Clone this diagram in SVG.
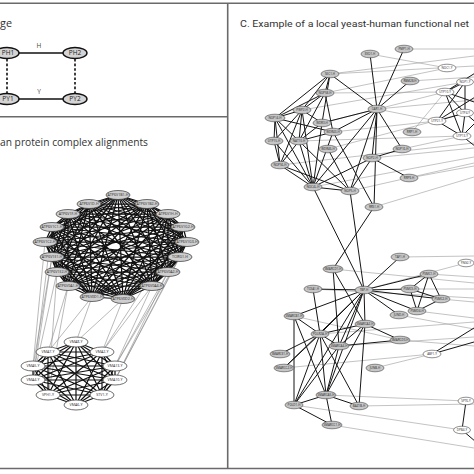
<svg xmlns="http://www.w3.org/2000/svg" width="474" height="474" viewBox="0 0 474 474">
<style>
text{font-family:"Open Sans","Noto Sans","Liberation Sans",sans-serif}
.title{font-size:10.5px;fill:#333}
.titlec{font-size:9.6px;fill:#333;font-family:Roboto,"Liberation Sans",sans-serif}
.frame{stroke:#6a6a6a;stroke-width:1.6;fill:none}
.na{fill:#d4d4d4;stroke:#111;stroke-width:1.4}
.la{font-size:6.5px;fill:#222;text-anchor:middle}
.lh{font-size:6.5px;fill:#444;text-anchor:middle}
.ea{stroke:#111;stroke-width:1.3;fill:none}
.ed{stroke:#111;stroke-width:1.6;stroke-dasharray:2.6 2;fill:none}
.kg{stroke:#111;stroke-width:1.25;fill:none;stroke-linejoin:round}
.ky{stroke:#111;stroke-width:1.2;fill:none;stroke-linejoin:round}
.map{stroke:#8a8a8a;stroke-width:0.6}
.ng{fill:#cfcfcf;stroke:#333;stroke-width:0.7}
.ny{fill:#fff;stroke:#333;stroke-width:0.7}
.lb{font-size:3.6px;fill:#222;text-anchor:middle}
.cg{fill:#c6c6c6;stroke:#444;stroke-width:0.6}
.cw{fill:#fff;stroke:#444;stroke-width:0.6}
.lc{font-size:3px;fill:#222;text-anchor:middle}
.eb{stroke:#151515;stroke-width:1}
.eg{stroke:#9a9a9a;stroke-width:0.6}
</style>

<!-- panel frames -->
<g id="frames">
<line class="frame" x1="0" y1="3.3" x2="474" y2="3.3"/>
<line class="frame" x1="227.7" y1="3.3" x2="227.7" y2="468.5"/>
<line class="frame" x1="0" y1="116.8" x2="227.7" y2="116.8"/>
<line class="frame" x1="0" y1="468.5" x2="474" y2="468.5"/>
</g>

<!-- titles -->
<text class="title" x="0" y="26.5" textLength="12" lengthAdjust="spacingAndGlyphs">ge</text>
<text class="title" x="0" y="145.5" textLength="148" lengthAdjust="spacingAndGlyphs">an protein complex alignments</text>
<text class="titlec" x="240" y="26.5" textLength="229" lengthAdjust="spacingAndGlyphs">C. Example of a local yeast-human functional net</text>

<!-- connectors -->
<g id="connectors">
<!-- panel A -->
<line class="ea" x1="19" y1="53" x2="63" y2="53"/>
<line class="ea" x1="19" y1="99" x2="63" y2="99"/>
<line class="ed" x1="7" y1="59" x2="7" y2="93"/>
<line class="ed" x1="75" y1="59" x2="75" y2="93"/>

<!-- panel B: mapping lines between complexes -->
<line class="map" x1="45" y1="242" x2="33" y2="366"/>
<line class="map" x1="52" y1="257" x2="33" y2="366"/>
<line class="map" x1="52" y1="257" x2="33" y2="380"/>
<line class="map" x1="57" y1="272" x2="33" y2="380"/>
<line class="map" x1="52" y1="227" x2="33" y2="380"/>
<line class="map" x1="57" y1="272" x2="48" y2="395"/>
<line class="map" x1="68" y1="286" x2="48" y2="352"/>
<line class="map" x1="68" y1="286" x2="48" y2="395"/>
<line class="map" x1="92" y1="297" x2="76" y2="342"/>
<line class="map" x1="92" y1="297" x2="48" y2="352"/>
<line class="map" x1="123" y1="299" x2="102" y2="352"/>
<line class="map" x1="123" y1="299" x2="76" y2="342"/>
<line class="map" x1="152" y1="286" x2="102" y2="352"/>
<line class="map" x1="152" y1="286" x2="115" y2="366"/>
<line class="map" x1="168" y1="272" x2="115" y2="366"/>
<line class="map" x1="168" y1="272" x2="115" y2="380"/>
<line class="map" x1="180" y1="257" x2="115" y2="380"/>
<line class="map" x1="180" y1="257" x2="115" y2="366"/>
<line class="map" x1="187" y1="242" x2="115" y2="380"/>
<line class="map" x1="183" y1="227" x2="102" y2="352"/>

<!-- panel B: human complex (complete graph as star polygons) -->
<polygon class="kg" points="118,195 147,204 168,214 183,227 187,242 180,257 168,272 152,286 123,299 92,297 68,286 57,272 52,257 45,242 52,227 68,214 89,204"/>
<polygon class="kg" points="118,195 168,214 187,242 168,272 123,299 68,286 52,257 52,227 89,204 147,204 183,227 180,257 152,286 92,297 57,272 45,242 68,214"/>
<polygon class="kg" points="118,195 183,227 168,272 92,297 52,257 68,214 147,204 187,242 152,286 68,286 45,242 89,204 168,214 180,257 123,299 57,272 52,227"/>
<polygon class="kg" points="118,195 187,242 123,299 52,257 89,204 183,227 152,286 57,272 68,214 168,214 168,272 68,286 52,227 147,204 180,257 92,297 45,242"/>
<polygon class="kg" points="118,195 180,257 68,286 68,214 183,227 123,299 45,242 147,204 168,272 57,272 89,204 187,242 92,297 52,227 168,214 152,286 52,257"/>
<polygon class="kg" points="118,195 168,272 52,257 147,204 152,286 45,242 168,214 123,299 52,227 183,227 92,297 68,214 187,242 68,286 89,204 180,257 57,272"/>
<polygon class="kg" points="118,195 152,286 52,227 187,242 57,272 147,204 123,299 68,214 180,257 52,257 168,214 92,297 89,204 168,272 45,242 183,227 68,286"/>
<polygon class="kg" points="118,195 123,299 89,204 152,286 68,214 168,272 52,227 180,257 45,242 187,242 52,257 183,227 57,272 168,214 68,286 147,204 92,297"/>

<!-- panel B: yeast complex -->
<polygon class="ky" points="76,342 102,352 115,366 115,380 102,395 76,405 48,395 33,380 33,366 48,352"/>
<polygon class="ky" points="76,342 115,366 102,395 48,395 33,366"/>
<polygon class="ky" points="102,352 115,380 76,405 33,380 48,352"/>
<polygon class="ky" points="76,342 115,380 48,395 48,352 115,366 76,405 33,366 102,352 102,395 33,380"/>
<polygon class="ky" points="76,342 102,395 33,366 115,366 48,395"/>
<polygon class="ky" points="102,352 76,405 48,352 115,380 33,380"/>
<path class="ky" d="M76 342L76 405M102 352L48 395M115 366L33 380M115 380L33 366M102 395L48 352"/>

<!-- panel C: gray (cross-species) lines, top -->
<line class="eg" x1="404" y1="49" x2="474" y2="49"/>
<line class="eg" x1="370" y1="54" x2="447" y2="68"/>
<line class="eg" x1="330" y1="74" x2="474" y2="56"/>
<line class="eg" x1="330" y1="74" x2="474" y2="66"/>
<line class="eg" x1="325" y1="93" x2="445" y2="92"/>
<line class="eg" x1="325" y1="93" x2="447" y2="68"/>
<line class="eg" x1="302" y1="110" x2="465" y2="82"/>
<line class="eg" x1="322" y1="123" x2="445" y2="92"/>
<line class="eg" x1="333" y1="132" x2="437" y2="121"/>
<line class="eg" x1="299" y1="141" x2="462" y2="136"/>
<line class="eg" x1="328" y1="149" x2="465" y2="113"/>
<line class="eg" x1="412" y1="132" x2="445" y2="92"/>
<line class="eg" x1="402" y1="149" x2="462" y2="136"/>
<line class="eg" x1="410" y1="81" x2="474" y2="77"/>
<line class="eg" x1="377" y1="109" x2="437" y2="121"/>
<line class="eg" x1="377" y1="109" x2="474" y2="100"/>
<line class="eg" x1="372" y1="158" x2="474" y2="148"/>
<line class="eg" x1="409" y1="178" x2="474" y2="166"/>
<line class="eg" x1="313" y1="187" x2="474" y2="157"/>
<line class="eg" x1="350" y1="191" x2="474" y2="163"/>
<line class="eg" x1="374" y1="207" x2="474" y2="177"/>
<line class="eg" x1="280" y1="165" x2="474" y2="143"/>

<!-- panel C: gray lines, bottom -->
<line class="eg" x1="400" y1="257" x2="474" y2="256"/>
<line class="eg" x1="364" y1="290" x2="466" y2="263"/>
<line class="eg" x1="429" y1="274" x2="474" y2="277"/>
<line class="eg" x1="410" y1="289" x2="474" y2="289"/>
<line class="eg" x1="441" y1="299" x2="474" y2="302"/>
<line class="eg" x1="417" y1="311" x2="474" y2="318"/>
<line class="eg" x1="399" y1="315" x2="474" y2="329"/>
<line class="eg" x1="333" y1="269" x2="474" y2="283"/>
<line class="eg" x1="313" y1="289" x2="474" y2="298"/>
<line class="eg" x1="294" y1="316" x2="400" y2="340"/>
<line class="eg" x1="400" y1="340" x2="474" y2="346"/>
<line class="eg" x1="339" y1="346" x2="474" y2="337"/>
<line class="eg" x1="284" y1="368" x2="432" y2="354"/>
<line class="eg" x1="375" y1="368" x2="432" y2="354"/>
<line class="eg" x1="326" y1="395" x2="466" y2="401"/>
<line class="eg" x1="359" y1="406" x2="474" y2="404"/>
<line class="eg" x1="294" y1="405" x2="462" y2="430"/>
<line class="eg" x1="332" y1="425" x2="474" y2="448"/>
<line class="eg" x1="320" y1="334" x2="474" y2="322"/>

<!-- panel C: black lines, top human cluster -->
<line class="eb" x1="404" y1="49" x2="377" y2="109"/>
<line class="eb" x1="370" y1="54" x2="377" y2="109"/>
<line class="eb" x1="330" y1="74" x2="377" y2="109"/>
<line class="eb" x1="410" y1="81" x2="377" y2="109"/>
<line class="eb" x1="330" y1="74" x2="302" y2="110"/>
<line class="eb" x1="330" y1="74" x2="275" y2="118"/>
<line class="eb" x1="330" y1="74" x2="325" y2="93"/>
<line class="eb" x1="330" y1="74" x2="322" y2="123"/>
<line class="eb" x1="325" y1="93" x2="302" y2="110"/>
<line class="eb" x1="325" y1="93" x2="275" y2="118"/>
<line class="eb" x1="325" y1="93" x2="299" y2="141"/>
<line class="eb" x1="325" y1="93" x2="333" y2="132"/>
<line class="eb" x1="302" y1="110" x2="275" y2="118"/>
<line class="eb" x1="302" y1="110" x2="322" y2="123"/>
<line class="eb" x1="302" y1="110" x2="274" y2="141"/>
<line class="eb" x1="302" y1="110" x2="299" y2="141"/>
<line class="eb" x1="302" y1="110" x2="280" y2="165"/>
<line class="eb" x1="302" y1="110" x2="313" y2="187"/>
<line class="eb" x1="275" y1="118" x2="274" y2="141"/>
<line class="eb" x1="275" y1="118" x2="299" y2="141"/>
<line class="eb" x1="275" y1="118" x2="280" y2="165"/>
<line class="eb" x1="275" y1="118" x2="313" y2="187"/>
<line class="eb" x1="275" y1="118" x2="333" y2="132"/>
<line class="eb" x1="322" y1="123" x2="299" y2="141"/>
<line class="eb" x1="322" y1="123" x2="313" y2="187"/>
<line class="eb" x1="333" y1="132" x2="299" y2="141"/>
<line class="eb" x1="333" y1="132" x2="313" y2="187"/>
<line class="eb" x1="333" y1="132" x2="374" y2="207"/>
<line class="eb" x1="274" y1="141" x2="280" y2="165"/>
<line class="eb" x1="274" y1="141" x2="313" y2="187"/>
<line class="eb" x1="299" y1="141" x2="280" y2="165"/>
<line class="eb" x1="299" y1="141" x2="313" y2="187"/>
<line class="eb" x1="299" y1="141" x2="350" y2="191"/>
<line class="eb" x1="377" y1="109" x2="333" y2="132"/>
<line class="eb" x1="377" y1="109" x2="322" y2="123"/>
<line class="eb" x1="377" y1="109" x2="372" y2="158"/>
<line class="eb" x1="377" y1="109" x2="350" y2="191"/>
<line class="eb" x1="377" y1="109" x2="374" y2="207"/>
<line class="eb" x1="377" y1="109" x2="402" y2="149"/>
<line class="eb" x1="377" y1="109" x2="313" y2="187"/>
<line class="eb" x1="372" y1="158" x2="313" y2="187"/>
<line class="eb" x1="372" y1="158" x2="350" y2="191"/>
<line class="eb" x1="372" y1="158" x2="409" y2="178"/>
<line class="eb" x1="372" y1="158" x2="402" y2="149"/>
<line class="eb" x1="328" y1="149" x2="350" y2="191"/>
<line class="eb" x1="313" y1="187" x2="350" y2="191"/>
<line class="eb" x1="280" y1="165" x2="313" y2="187"/>
<line class="eb" x1="280" y1="165" x2="350" y2="191"/>
<!-- links down to bottom cluster -->
<line class="eb" x1="313" y1="187" x2="364" y2="290"/>
<line class="eb" x1="350" y1="191" x2="364" y2="290"/>
<line class="eb" x1="374" y1="207" x2="333" y2="269"/>

<!-- panel C: black lines, top yeast cluster -->
<line class="eb" x1="445" y1="92" x2="465" y2="82"/>
<line class="eb" x1="445" y1="92" x2="465" y2="113"/>
<line class="eb" x1="445" y1="92" x2="462" y2="136"/>
<line class="eb" x1="465" y1="82" x2="437" y2="121"/>
<line class="eb" x1="437" y1="121" x2="462" y2="136"/>
<line class="eb" x1="465" y1="113" x2="437" y2="121"/>
<line class="eb" x1="465" y1="113" x2="462" y2="136"/>
<line class="eb" x1="465" y1="82" x2="465" y2="113"/>
<line class="eb" x1="445" y1="92" x2="480" y2="70"/>
<line class="eb" x1="437" y1="121" x2="480" y2="94"/>
<line class="eb" x1="462" y1="136" x2="480" y2="150"/>
<line class="eb" x1="465" y1="113" x2="480" y2="126"/>
<line class="eb" x1="445" y1="92" x2="480" y2="104"/>
<line class="eb" x1="462" y1="136" x2="480" y2="118"/>

<!-- panel C: black lines, bottom human cluster -->
<line class="eb" x1="400" y1="257" x2="364" y2="290"/>
<line class="eb" x1="429" y1="274" x2="364" y2="290"/>
<line class="eb" x1="410" y1="289" x2="364" y2="290"/>
<line class="eb" x1="441" y1="299" x2="364" y2="290"/>
<line class="eb" x1="417" y1="311" x2="364" y2="290"/>
<line class="eb" x1="399" y1="315" x2="364" y2="290"/>
<line class="eb" x1="429" y1="274" x2="410" y2="289"/>
<line class="eb" x1="429" y1="274" x2="441" y2="299"/>
<line class="eb" x1="429" y1="274" x2="417" y2="311"/>
<line class="eb" x1="410" y1="289" x2="441" y2="299"/>
<line class="eb" x1="410" y1="289" x2="417" y2="311"/>
<line class="eb" x1="441" y1="299" x2="417" y2="311"/>
<line class="eb" x1="313" y1="289" x2="364" y2="290"/>
<line class="eb" x1="333" y1="269" x2="339" y2="346"/>
<line class="eb" x1="333" y1="269" x2="365" y2="324"/>
<line class="eb" x1="313" y1="289" x2="320" y2="334"/>
<line class="eb" x1="294" y1="316" x2="364" y2="290"/>
<line class="eb" x1="364" y1="290" x2="320" y2="334"/>
<line class="eb" x1="364" y1="290" x2="339" y2="346"/>
<line class="eb" x1="364" y1="290" x2="365" y2="324"/>
<line class="eb" x1="364" y1="290" x2="284" y2="368"/>
<line class="eb" x1="364" y1="290" x2="294" y2="405"/>
<line class="eb" x1="364" y1="290" x2="326" y2="395"/>
<line class="eb" x1="365" y1="324" x2="320" y2="334"/>
<line class="eb" x1="365" y1="324" x2="339" y2="346"/>
<line class="eb" x1="365" y1="324" x2="400" y2="340"/>
<line class="eb" x1="320" y1="334" x2="339" y2="346"/>
<line class="eb" x1="339" y1="346" x2="400" y2="340"/>
<line class="eb" x1="320" y1="334" x2="280" y2="354"/>
<line class="eb" x1="294" y1="316" x2="326" y2="395"/>
<line class="eb" x1="294" y1="316" x2="294" y2="405"/>
<line class="eb" x1="320" y1="334" x2="326" y2="395"/>
<line class="eb" x1="320" y1="334" x2="294" y2="405"/>
<line class="eb" x1="339" y1="346" x2="326" y2="395"/>
<line class="eb" x1="339" y1="346" x2="294" y2="405"/>
<line class="eb" x1="365" y1="324" x2="326" y2="395"/>
<line class="eb" x1="365" y1="324" x2="359" y2="406"/>
<line class="eb" x1="320" y1="334" x2="359" y2="406"/>
<line class="eb" x1="284" y1="368" x2="320" y2="334"/>
<line class="eb" x1="326" y1="395" x2="294" y2="405"/>
<line class="eb" x1="326" y1="395" x2="359" y2="406"/>
<line class="eb" x1="326" y1="395" x2="332" y2="425"/>
<line class="eb" x1="294" y1="405" x2="332" y2="425"/>
<line class="eb" x1="294" y1="316" x2="320" y2="334"/>

<!-- panel C: black lines, bottom yeast -->
<line class="eb" x1="432" y1="354" x2="474" y2="328"/>
<line class="eb" x1="432" y1="354" x2="474" y2="342"/>
<line class="eb" x1="466" y1="401" x2="462" y2="430"/>
<line class="eb" x1="462" y1="430" x2="476" y2="442"/>
</g>

<!-- panel A nodes -->
<g id="PH1"><ellipse class="na" cx="7" cy="53" rx="12" ry="5.5"/><text class="la" x="8" y="55.3">PH1</text></g>
<g id="PH2"><ellipse class="na" cx="75" cy="53" rx="12" ry="5.5"/><text class="la" x="75" y="55.3">PH2</text></g>
<g id="PY1"><ellipse class="na" cx="7" cy="99" rx="12" ry="5.5"/><text class="la" x="8" y="101.3">PY1</text></g>
<g id="PY2"><ellipse class="na" cx="75" cy="99" rx="12" ry="5.5"/><text class="la" x="75" y="101.3">PY2</text></g>
<text class="lh" x="39" y="48">H</text>
<text class="lh" x="39" y="94">Y</text>

<!-- panel B human nodes -->
<g id="ATP6V1B1-H"><ellipse class="ng" cx="118" cy="195" rx="12" ry="4.5"/><text class="lb" x="118" y="196.3">ATP6V1B1-H</text></g>
<g id="ATP6V1B2-H"><ellipse class="ng" cx="147" cy="204" rx="12" ry="4.5"/><text class="lb" x="147" y="205.3">ATP6V1B2-H</text></g>
<g id="ATP6V1H-H"><ellipse class="ng" cx="168" cy="214" rx="12" ry="4.5"/><text class="lb" x="168" y="215.3">ATP6V1H-H</text></g>
<g id="ATP6V1G2-H"><ellipse class="ng" cx="183" cy="227" rx="12" ry="4.5"/><text class="lb" x="183" y="228.3">ATP6V1G2-H</text></g>
<g id="ATP6V1G3-H"><ellipse class="ng" cx="187" cy="242" rx="12" ry="4.5"/><text class="lb" x="187" y="243.3">ATP6V1G3-H</text></g>
<g id="TCIRG1-H"><ellipse class="ng" cx="180" cy="257" rx="12" ry="4.5"/><text class="lb" x="180" y="258.3">TCIRG1-H</text></g>
<g id="ATP6V0A2-H"><ellipse class="ng" cx="168" cy="272" rx="12" ry="4.5"/><text class="lb" x="168" y="273.3">ATP6V0A2-H</text></g>
<g id="ATP6V0A4-H"><ellipse class="ng" cx="152" cy="286" rx="12" ry="4.5"/><text class="lb" x="152" y="287.3">ATP6V0A4-H</text></g>
<g id="ATP6V0D2-H"><ellipse class="ng" cx="123" cy="299" rx="12" ry="4.5"/><text class="lb" x="123" y="300.3">ATP6V0D2-H</text></g>
<g id="ATP6V0D1-H"><ellipse class="ng" cx="92" cy="297" rx="12" ry="4.5"/><text class="lb" x="92" y="298.3">ATP6V0D1-H</text></g>
<g id="ATP6V0A1-H"><ellipse class="ng" cx="68" cy="286" rx="12" ry="4.5"/><text class="lb" x="68" y="287.3">ATP6V0A1-H</text></g>
<g id="ATP6V1E2-H"><ellipse class="ng" cx="57" cy="272" rx="12" ry="4.5"/><text class="lb" x="57" y="273.3">ATP6V1E2-H</text></g>
<g id="ATP6V1E1-H"><ellipse class="ng" cx="52" cy="257" rx="12" ry="4.5"/><text class="lb" x="52" y="258.3">ATP6V1E1-H</text></g>
<g id="ATP6V1C2-H"><ellipse class="ng" cx="45" cy="242" rx="12" ry="4.5"/><text class="lb" x="45" y="243.3">ATP6V1C2-H</text></g>
<g id="ATP6V1C1-H"><ellipse class="ng" cx="52" cy="227" rx="12" ry="4.5"/><text class="lb" x="52" y="228.3">ATP6V1C1-H</text></g>
<g id="ATP6V1F-H"><ellipse class="ng" cx="68" cy="214" rx="12" ry="4.5"/><text class="lb" x="68" y="215.3">ATP6V1F-H</text></g>
<g id="ATP6V1D-H"><ellipse class="ng" cx="89" cy="204" rx="12" ry="4.5"/><text class="lb" x="89" y="205.3">ATP6V1D-H</text></g>

<!-- panel B yeast nodes -->
<g id="VMA8-Y"><ellipse class="ny" cx="76" cy="342" rx="12" ry="5"/><text class="lb" x="76" y="343.3">VMA8-Y</text></g>
<g id="VMA2-Y"><ellipse class="ny" cx="102" cy="352" rx="12" ry="5"/><text class="lb" x="102" y="353.3">VMA2-Y</text></g>
<g id="VMA13-Y"><ellipse class="ny" cx="115" cy="366" rx="12" ry="5"/><text class="lb" x="115" y="367.3">VMA13-Y</text></g>
<g id="VMA10-Y"><ellipse class="ny" cx="115" cy="380" rx="12" ry="5"/><text class="lb" x="115" y="381.3">VMA10-Y</text></g>
<g id="STV1-Y"><ellipse class="ny" cx="102" cy="395" rx="12" ry="5"/><text class="lb" x="102" y="396.3">STV1-Y</text></g>
<g id="VMA6-Y"><ellipse class="ny" cx="76" cy="405" rx="12" ry="5"/><text class="lb" x="76" y="406.3">VMA6-Y</text></g>
<g id="VPH1-Y"><ellipse class="ny" cx="48" cy="395" rx="12" ry="5"/><text class="lb" x="48" y="396.3">VPH1-Y</text></g>
<g id="VMA4-Y"><ellipse class="ny" cx="33" cy="380" rx="12" ry="5"/><text class="lb" x="33" y="381.3">VMA4-Y</text></g>
<g id="VMA5-Y"><ellipse class="ny" cx="33" cy="366" rx="12" ry="5"/><text class="lb" x="33" y="367.3">VMA5-Y</text></g>
<g id="VMA7-Y"><ellipse class="ny" cx="48" cy="352" rx="12" ry="5"/><text class="lb" x="48" y="353.3">VMA7-Y</text></g>

<!-- panel C top human nodes -->
<g id="PMP1-H"><ellipse class="cg" cx="404" cy="49" rx="9" ry="3.8"/><text class="lc" x="404" y="50">PMP1-H</text></g>
<g id="EXO1-H"><ellipse class="cg" cx="370" cy="54" rx="9" ry="3.8"/><text class="lc" x="370" y="55">EXO1-H</text></g>
<g id="SEC1-H"><ellipse class="cg" cx="330" cy="74" rx="9" ry="3.8"/><text class="lc" x="330" y="75">SEC1-H</text></g>
<g id="RBM28-H"><ellipse class="cg" cx="410" cy="81" rx="9" ry="3.8"/><text class="lc" x="410" y="82">RBM28-H</text></g>
<g id="NOP58-H"><ellipse class="cg" cx="325" cy="93" rx="9" ry="3.8"/><text class="lc" x="325" y="94">NOP58-H</text></g>
<g id="PWP2-H"><ellipse class="cg" cx="302" cy="110" rx="9" ry="3.8"/><text class="lc" x="302" y="111">PWP2-H</text></g>
<g id="CAR1-H"><ellipse class="cg" cx="377" cy="109" rx="9" ry="3.8"/><text class="lc" x="377" y="110">CAR1-H</text></g>
<g id="NOP14-H"><ellipse class="cg" cx="275" cy="118" rx="10" ry="3.8"/><text class="lc" x="275" y="119">NOP14-H</text></g>
<g id="WDR3-H"><ellipse class="cg" cx="322" cy="123" rx="9" ry="3.8"/><text class="lc" x="322" y="124">WDR3-H</text></g>
<g id="WDR43-H"><ellipse class="cg" cx="333" cy="132" rx="9" ry="3.8"/><text class="lc" x="333" y="133">WDR43-H</text></g>
<g id="UTP15-H"><ellipse class="cg" cx="274" cy="141" rx="9" ry="3.8"/><text class="lc" x="274" y="142">UTP15-H</text></g>
<g id="NAT10-H"><ellipse class="cg" cx="299" cy="141" rx="9" ry="3.8"/><text class="lc" x="299" y="142">NAT10-H</text></g>
<g id="RRP1-H"><ellipse class="cg" cx="412" cy="132" rx="9" ry="3.8"/><text class="lc" x="412" y="133">RRP1-H</text></g>
<g id="WDR46-H"><ellipse class="cg" cx="328" cy="149" rx="9" ry="3.8"/><text class="lc" x="328" y="150">WDR46-H</text></g>
<g id="NOP16-H"><ellipse class="cg" cx="402" cy="149" rx="9" ry="3.8"/><text class="lc" x="402" y="150">NOP16-H</text></g>
<g id="NOP2-H"><ellipse class="cg" cx="372" cy="158" rx="9" ry="3.8"/><text class="lc" x="372" y="159">NOP2-H</text></g>
<g id="NOP56-H"><ellipse class="cg" cx="280" cy="165" rx="9" ry="3.8"/><text class="lc" x="280" y="166">NOP56-H</text></g>
<g id="RRP9-H"><ellipse class="cg" cx="409" cy="178" rx="9" ry="3.8"/><text class="lc" x="409" y="179">RRP9-H</text></g>
<g id="NOC4L-H"><ellipse class="cg" cx="313" cy="187" rx="9" ry="3.8"/><text class="lc" x="313" y="188">NOC4L-H</text></g>
<g id="NOP5-H"><ellipse class="cg" cx="350" cy="191" rx="9" ry="3.8"/><text class="lc" x="350" y="192">NOP5-H</text></g>
<g id="RRS1-H"><ellipse class="cg" cx="374" cy="207" rx="9" ry="3.8"/><text class="lc" x="374" y="208">RRS1-H</text></g>

<!-- panel C top yeast nodes -->
<g id="NOC1-Y"><ellipse class="cw" cx="447" cy="68" rx="9" ry="3.8"/><text class="lc" x="447" y="69">NOC1-Y</text></g>
<g id="NOP1-Y"><ellipse class="cw" cx="465" cy="82" rx="8.5" ry="3.8"/><text class="lc" x="465" y="83">NOP1-Y</text></g>
<g id="UTP10-Y"><ellipse class="cw" cx="445" cy="92" rx="9" ry="3.8"/><text class="lc" x="445" y="93">UTP10-Y</text></g>
<g id="UTP4-Y"><ellipse class="cw" cx="465" cy="113" rx="8.5" ry="3.8"/><text class="lc" x="465" y="114">UTP4-Y</text></g>
<g id="UTP21-Y"><ellipse class="cw" cx="437" cy="121" rx="9" ry="3.8"/><text class="lc" x="437" y="122">UTP21-Y</text></g>
<g id="UTP13-Y"><ellipse class="cw" cx="462" cy="136" rx="9" ry="3.8"/><text class="lc" x="462" y="137">UTP13-Y</text></g>

<!-- panel C bottom human nodes -->
<g id="TAF1-H"><ellipse class="cg" cx="400" cy="257" rx="9" ry="3.8"/><text class="lc" x="400" y="258">TAF1-H</text></g>
<g id="SMARCD1-H"><ellipse class="cg" cx="333" cy="269" rx="10" ry="3.8"/><text class="lc" x="333" y="270">SMARCD1-H</text></g>
<g id="PSMC1-H"><ellipse class="cg" cx="429" cy="274" rx="9" ry="3.8"/><text class="lc" x="429" y="275">PSMC1-H</text></g>
<g id="TCEA1-H"><ellipse class="cg" cx="313" cy="289" rx="9" ry="3.8"/><text class="lc" x="313" y="290">TCEA1-H</text></g>
<g id="TBP-H"><ellipse class="cg" cx="364" cy="290" rx="9" ry="3.8"/><text class="lc" x="364" y="291">TBP-H</text></g>
<g id="PSMC5-H"><ellipse class="cg" cx="410" cy="289" rx="9" ry="3.8"/><text class="lc" x="410" y="290">PSMC5-H</text></g>
<g id="PSMC2-H"><ellipse class="cg" cx="441" cy="299" rx="9" ry="3.8"/><text class="lc" x="441" y="300">PSMC2-H</text></g>
<g id="PSMD4-H"><ellipse class="cg" cx="417" cy="311" rx="9" ry="3.8"/><text class="lc" x="417" y="312">PSMD4-H</text></g>
<g id="JUND-H"><ellipse class="cg" cx="399" cy="315" rx="9" ry="3.8"/><text class="lc" x="399" y="316">JUND-H</text></g>
<g id="SMARCB1-H"><ellipse class="cg" cx="294" cy="316" rx="10" ry="3.8"/><text class="lc" x="294" y="317">SMARCB1-H</text></g>
<g id="SMARCA2-H"><ellipse class="cg" cx="365" cy="324" rx="10" ry="3.8"/><text class="lc" x="365" y="325">SMARCA2-H</text></g>
<g id="POLR2A-H"><ellipse class="cg" cx="320" cy="334" rx="9" ry="3.8"/><text class="lc" x="320" y="335">POLR2A-H</text></g>
<g id="SMARCD3-H"><ellipse class="cg" cx="400" cy="340" rx="10" ry="3.8"/><text class="lc" x="400" y="341">SMARCD3-H</text></g>
<g id="SMARCA4-H"><ellipse class="cg" cx="339" cy="346" rx="10" ry="3.8"/><text class="lc" x="339" y="347">SMARCA4-H</text></g>
<g id="SMARCE1-H"><ellipse class="cg" cx="280" cy="354" rx="10" ry="3.8"/><text class="lc" x="280" y="355">SMARCE1-H</text></g>
<g id="SMARCC2-H"><ellipse class="cg" cx="284" cy="368" rx="10" ry="3.8"/><text class="lc" x="284" y="369">SMARCC2-H</text></g>
<g id="JUNB-H"><ellipse class="cg" cx="375" cy="368" rx="9" ry="3.8"/><text class="lc" x="375" y="369">JUNB-H</text></g>
<g id="SMARCA5-H"><ellipse class="cg" cx="326" cy="395" rx="10" ry="3.8"/><text class="lc" x="326" y="396">SMARCA5-H</text></g>
<g id="POLD1-H"><ellipse class="cg" cx="294" cy="405" rx="9" ry="3.8"/><text class="lc" x="294" y="406">POLD1-H</text></g>
<g id="BAZ1B-H"><ellipse class="cg" cx="359" cy="406" rx="9" ry="3.8"/><text class="lc" x="359" y="407">BAZ1B-H</text></g>
<g id="SMARCC1-H"><ellipse class="cg" cx="332" cy="425" rx="10" ry="3.8"/><text class="lc" x="332" y="426">SMARCC1-H</text></g>

<!-- panel C bottom yeast nodes -->
<g id="YNG2-Y"><ellipse class="cw" cx="466" cy="263" rx="8" ry="3.8"/><text class="lc" x="466" y="264">YNG2-Y</text></g>
<g id="ABF1-Y"><ellipse class="cw" cx="432" cy="354" rx="9" ry="3.8"/><text class="lc" x="432" y="355">ABF1-Y</text></g>
<g id="SPT6-Y"><ellipse class="cw" cx="466" cy="401" rx="8" ry="3.8"/><text class="lc" x="466" y="402">SPT6-Y</text></g>
<g id="DPB4-Y"><ellipse class="cw" cx="462" cy="430" rx="8.5" ry="3.8"/><text class="lc" x="462" y="431">DPB4-Y</text></g>
</svg>
